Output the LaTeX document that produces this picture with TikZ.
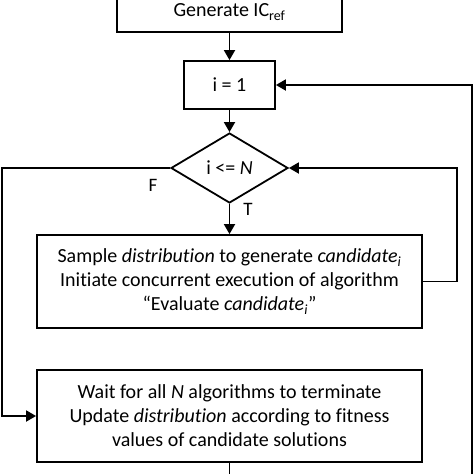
\documentclass[tikz,border=0pt]{standalone}
\usepackage{fontspec}
\setmainfont{Carlito}[Ligatures=NoCommon]
\usetikzlibrary{shapes.geometric,arrows.meta}
\begin{document}
\begin{tikzpicture}[x=1pt,y=-1pt,
  every node/.style={font=\fontsize{20}{24}\selectfont, text=black},
  box/.style={draw, line width=1.8pt, align=center, inner sep=0pt},
  dec/.style={draw, diamond, line width=1.8pt, aspect=1.67, inner sep=0pt, minimum width=117pt, minimum height=70pt},
  conn/.style={line width=1.8pt},
  arr/.style={conn, -{Triangle[length=10pt,width=11pt]}},
  lbl/.style={font=\fontsize{19}{20}\selectfont}
]
\useasboundingbox (0,0) rectangle (474,474);
\clip (0,0) rectangle (474,474);
\node[box, minimum width=225pt, minimum height=40pt, anchor=south] (gen) at (229.5,33) {Generate IC\textsubscript{ref}};
\node[box, minimum width=91pt, minimum height=48pt] (i1) at (229.5,85) {i = 1};
\node[dec] (dia) at (229.5,168) {i <= \textit{N}};
\node[box, minimum width=385pt, minimum height=93pt] (b1) at (229.5,281.5) {Sample \textit{distribution} to generate \textit{candidate\textsubscript{i}}\\Initiate concurrent execution of algorithm\\“Evaluate \textit{candidate\textsubscript{i}}”};
\node[box, minimum width=385pt, minimum height=92pt] (b2) at (229.5,416) {Wait for all \textit{N} algorithms to terminate\\Update \textit{distribution} according to fitness\\values of candidate solutions};
\node[lbl] (F) at (153,185) {F};
\node[lbl] (T) at (248,209) {T};
\coordinate (l1) at (2,168);
\coordinate (l2) at (2,416);
\coordinate (r1) at (457,281.5);
\coordinate (r2) at (457,168);
\coordinate (o1) at (472,480);
\coordinate (o2) at (472,85);
\coordinate (bot) at (229.5,480);
\draw[arr] (gen) -- (i1);
\draw[arr] (i1) -- (dia);
\draw[arr] (dia.south) -- (b1.north);
\draw[arr] (dia.west) -- (l1) -- (l2) -- (b2.west);
\draw[arr] (b1.east) -- (r1) -- (r2) -- (dia.east);
\draw[arr] (o1) -- (o2) -- (i1.east);
\draw[conn] (b2.south) -- (bot);
\end{tikzpicture}
\end{document}
